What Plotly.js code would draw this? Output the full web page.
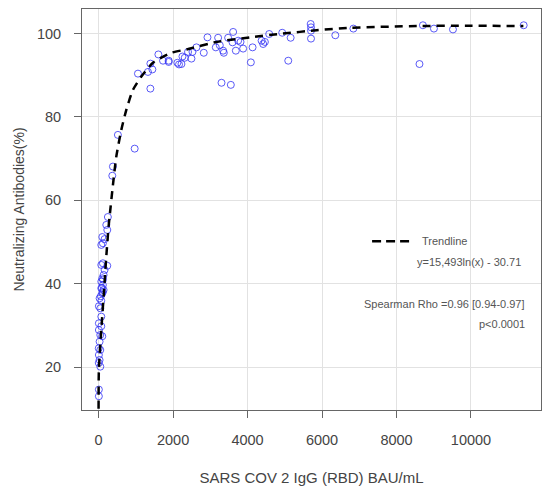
<!DOCTYPE html>
<html>
<head>
<meta charset="utf-8">
<script src="https://cdn.plot.ly/plotly-3.0.1.min.js"></script>
<style>html,body{margin:0;padding:0;background:#fff;}#chart{width:550px;height:491px;}</style>
</head>
<body>
<div id="chart"></div>
<script>
// Observations: SARS COV 2 IgG (RBD) BAU/mL vs Neutralizing Antibodies (%)
var igg = [
  250,207,234,100,161,73,116,73,116,234,161,135,100,73,116,73,135,100,27,73,
  8,46,73,8,73,8,46,100,27,5,46,8,27,5,46,8,8,90,110,60,120,
  369,385,519,969,1057,1326,1391,1391,1445,1606,1730,1883,1883,2117,2160,2225,2252,2314,2402,2494,
  2521,2628,2825,2924,3148,3210,3255,3301,3344,3363,3479,3551,3597,3613,3686,3748,3812,3882,4089,4135,
  4377,4420,4466,4582,4931,5093,5157,5695,5704,5704,5704,6357,6842,8617,8709,9005,9516,11415
];
var neut = [
  56.0,54.1,52.9,51.2,50.7,49.3,49.7,44.5,44.9,44.3,43.3,42.1,41.3,40.5,39.7,38.9,38.5,37.7,36.5,35.9,
  34.6,34.1,32.1,30.5,29.8,28.9,27.7,27.4,26.1,24.5,24.1,22.9,21.7,21.0,20.1,14.6,13.0,39.0,38.0,37.0,41.0,
  65.9,68.1,75.7,72.4,90.4,90.8,86.8,92.8,91.4,95.0,93.5,93.5,93.2,93.0,92.6,92.7,94.5,94.2,95.6,94.0,
  95.6,96.7,95.4,99.1,96.7,99.0,97.2,88.2,95.9,95.4,99.0,87.7,97.9,100.4,95.9,98.3,98.0,96.4,93.1,96.7,
  98.3,97.5,98.0,99.9,100.2,93.5,99.0,102.3,101.5,100.7,98.8,99.6,101.2,92.7,102.0,101.2,101.0,102.0
];
// Trendline as drawn
var trendX = [0,8,73,161,207,269,296,369,476,611,745,923,1149,1461,1956,2359,3166,4062,4950,5857,6753,8547,9892,11407];
var trendY = [10,19.3,28.9,40.2,46.5,53.7,56.1,62.3,70.5,76.9,81.7,86.5,89.7,93.0,95.4,96.2,98.0,99.1,100.0,100.8,101.4,101.8,101.9,101.8];

var xTicks = [0,2000,4000,6000,8000,10000];
var yTicks = [20,40,60,80,100];

var axisColor = '#666';
var dashStyle = '8px,6px';
var traces = [
  {
    x: igg, y: neut, type: 'scatter', mode: 'markers', showlegend: false,
    marker: {symbol: 'circle-open', size: 7, color: 'rgba(50,50,245,0.8)', line: {width: 1}},
    hoverinfo: 'x+y'
  },
  {
    x: trendX, y: trendY, type: 'scatter', mode: 'lines', name: 'Trendline', showlegend: false,
    line: {color: '#000', width: 2.5, dash: dashStyle, shape: 'spline', smoothing: 0.6}
  }
];

var layout = {
  width: 550, height: 491,
  margin: {l: 82, r: 9, t: 9, b: 81},
  paper_bgcolor: '#fff', plot_bgcolor: '#fff',
  font: {family: 'Liberation Sans, Arial, sans-serif', color: '#444', size: 14},
  xaxis: {
    range: [-445, 11880], tickvals: xTicks, ticktext: xTicks.map(String),
    showgrid: true, gridcolor: '#e2e2e2', gridwidth: 1, zeroline: false,
    showline: true, linecolor: axisColor, linewidth: 1, mirror: true,
    ticks: 'outside', ticklen: 7, tickcolor: axisColor, tickwidth: 1,
    ticklabelstandoff: 10,
    tickfont: {size: 14.5, color: '#444'},
    title: {text: 'SARS COV 2 IgG (RBD) BAU/mL', font: {size: 15, color: '#444'}, standoff: 25}
  },
  yaxis: {
    range: [9.7, 105.9], tickvals: yTicks, ticktext: yTicks.map(String),
    showgrid: true, gridcolor: '#e2e2e2', gridwidth: 1, zeroline: false,
    showline: true, linecolor: axisColor, linewidth: 1, mirror: true,
    ticks: 'outside', ticklen: 7, tickcolor: axisColor, tickwidth: 1,
    ticklabelstandoff: 10,
    tickfont: {size: 14.5, color: '#444'},
    title: {text: 'Neutralizing Antibodies(%)', font: {size: 14, color: '#444'}, standoff: 8}
  },
  showlegend: false,
  shapes: [
    {type: 'line', xref: 'paper', yref: 'paper', x0: 0.632, x1: 0.716, y0: 0.421, y1: 0.421,
     line: {color: '#000', width: 2.5, dash: '9px,5px'}}
  ],
  annotations: [
    {xref: 'paper', yref: 'paper', x: 0.737, y: 0.421, xanchor: 'left', yanchor: 'middle', showarrow: false,
     text: 'Trendline', font: {size: 11, color: '#555'}},
    {xref: 'paper', yref: 'paper', x: 0.96, y: 0.368, xanchor: 'right', yanchor: 'middle', showarrow: false,
     text: 'y=15,493ln(x) - 30.71', font: {size: 11, color: '#555'}},
    {xref: 'paper', yref: 'paper', x: 0.97, y: 0.264, xanchor: 'right', yanchor: 'middle', showarrow: false,
     text: 'Spearman Rho =0.96 [0.94-0.97]', font: {size: 11, color: '#555'}},
    {xref: 'paper', yref: 'paper', x: 0.97, y: 0.214, xanchor: 'right', yanchor: 'middle', showarrow: false,
     text: 'p<0.0001', font: {size: 11, color: '#555'}}
  ]
};

Plotly.newPlot('chart', traces, layout, {displayModeBar: false, staticPlot: true});
</script>
</body>
</html>
